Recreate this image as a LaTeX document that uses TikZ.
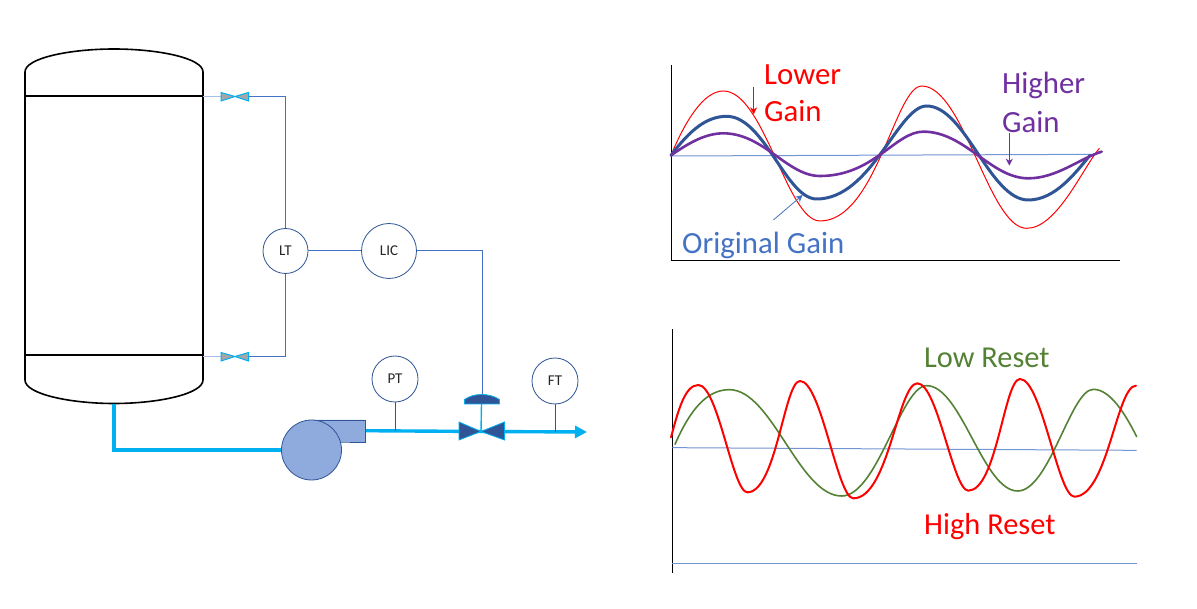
\documentclass[tikz,border=0pt]{standalone}
\usepackage{fontspec}
\setmainfont{Carlito}
\usetikzlibrary{arrows.meta}
\definecolor{pipecyan}{HTML}{00B0F0}
\definecolor{sigblue}{HTML}{4472C4}
\definecolor{sigdark}{HTML}{2F5597}
\definecolor{siglight}{HTML}{A9BDE5}
\definecolor{pumpfill}{HTML}{8FAADC}
\definecolor{purp}{HTML}{7030A0}
\definecolor{grn}{HTML}{548235}
\definecolor{valvegrey}{HTML}{A6A6A6}
\tikzset{
  instr/.style={circle,draw=sigdark,fill=white,line width=0.8pt,inner sep=0pt,minimum size=#1,font=\fontsize{15}{17}\selectfont,text=black!85},
  signal/.style={draw=sigblue,line width=1pt},
  tap/.style={draw=sigdark,line width=0.8pt},
  pipe/.style={draw=pipecyan,line width=3.4pt},
  vessel/.style={draw=black,line width=1.6pt,line cap=round,line join=round},
  vesselseam/.style={draw=black,line width=2pt,line cap=round},
  handvalve/.style={fill=valvegrey,draw=pipecyan,line width=1pt,line join=miter},
  ctrlvalve/.style={fill=sigdark,draw=pipecyan,line width=0.8pt,line join=miter},
  axisline/.style={draw=black,line width=0.9pt},
  baseline/.style={draw=sigblue!75,line width=1pt},
  lbl/.style={anchor=west,inner sep=0pt,font=\fontsize{30.8}{34}\selectfont},
  lblb/.style={anchor=west,inner sep=0pt,font=\fontsize{30.4}{34}\selectfont},
  curve/.style={line cap=round,line join=round}
}
\begin{document}
\begin{tikzpicture}[x=1pt,y=-1pt]
\useasboundingbox[fill=white] (0,0) rectangle (1197,609);
% Vessel
\draw[vessel] (25,96) -- (25,72) .. controls (25,58) and (70,49) .. (114,49) .. controls (158,49) and (203,58) .. (203,72) -- (203,96);
\draw[vesselseam] (25,96) -- (203,96);
\draw[vessel] (25,96) -- (25,355) (203,96) -- (203,355);
\draw[vesselseam] (25,355) -- (203,355);
\draw[vessel] (25,355) -- (25,380) .. controls (25,394) and (70,403.5) .. (114,403.5) .. controls (158,403.5) and (203,394) .. (203,380) -- (203,355);
% Named points
\coordinate (vesselTop) at (203,96.5);
\coordinate (vesselBot) at (203,356.5);
\coordinate (outlet) at (114,404);
\coordinate (hvTopL) at (221,96.5);
\coordinate (hvTopR) at (248.5,96.5);
\coordinate (hvBotL) at (221,356.5);
\coordinate (hvBotR) at (248.5,356.5);
\coordinate (cornerTop) at (285.5,96.5);
\coordinate (cornerBot) at (285.5,356.5);
\coordinate (valveC) at (481,431.5);
\coordinate (corner) at (482,251);
\coordinate (actBot) at (482,394);
\coordinate (ptTee) at (395,431);
\coordinate (ftTee) at (555,432);
\coordinate (lineEnd) at (587,432);
% Instruments
\node[instr=45pt] (LT) at (285.5,251) {LT};
\node[instr=55pt] (LIC) at (389,251) {LIC};
\node[instr=46pt] (PT) at (395,379) {PT};
\node[instr=46pt] (FT) at (555,381) {FT};
% Signal lines
\draw[signal,siglight] (vesselTop) -- (hvTopL);
\draw[signal,siglight] (vesselBot) -- (hvBotL);
\draw[signal] (hvTopR) -- (cornerTop) -- (LT.north);
\draw[signal] (hvBotR) -- (cornerBot) -- (LT.south);
\draw[signal] (LT.east) -- (LIC.west);
\draw[signal] (LIC.east) -- (corner) -- (actBot);
% Hand valves
\draw[handvalve] (221,92.5) -- (235,96.5) -- (221,101) -- cycle;
\draw[handvalve] (248.5,92.5) -- (235,96.5) -- (248.5,101) -- cycle;
\draw[handvalve] (221,352.5) -- (235,356.5) -- (221,361) -- cycle;
\draw[handvalve] (248.5,352.5) -- (235,356.5) -- (248.5,361) -- cycle;
% Pipes
\draw[pipe,line join=miter] (outlet) -- (114,450) -- (285,450);
\draw[pipe] (364,430.7) -- (valveC);
\draw[pipe,-{Triangle[length=12pt,width=12pt]}] (valveC) -- (lineEnd);
\draw[tap] (PT.south) -- (ptTee);
\draw[tap] (FT.south) -- (ftTee);
% Pump
\draw[fill=pumpfill,draw=sigdark,line width=0.8pt] (311,420) -- (365,420) -- (365,442) -- (335,442) -- (311,442) -- cycle;
\node[circle,fill=pumpfill,draw=sigdark,line width=0.8pt,minimum size=60pt,inner sep=0pt] (pump) at (311.5,450) {};
% Control valve
\draw[draw=pipecyan,line width=1.4pt] (valveC) -- (481.5,404);
\draw[ctrlvalve] (464.5,404) -- (464.5,399.5) .. controls (470,396) and (475,394.5) .. (481.5,394.5) .. controls (488,394.5) and (494,396) .. (499.5,399.5) -- (499.5,404) -- cycle;
\draw[ctrlvalve] (459,422) -- (481,431.5) -- (459,440) -- cycle;
\draw[ctrlvalve] (504.5,422) -- (481,431.5) -- (504.5,440) -- cycle;
% Top chart
\begin{scope}[shift={(660,50)},x=0.33333pt,y=-0.33333pt]
\coordinate (axT) at (34,45);
\coordinate (axO) at (34,632);
\coordinate (axR) at (1380,632);
\coordinate (bL) at (33,318);
\coordinate (bR) at (1295,313);
\draw[axisline] (axT) -- (axO) -- (axR);
\draw[baseline] (bL) -- (bR);
\draw[red,line width=1pt,curve] (33,316) .. controls (75,215) and (130,123) .. (190,123) .. controls (312,123) and (381,513) .. (480,513) .. controls (648,513) and (706,108) .. (785,108) .. controls (911,108) and (987,535) .. (1100,535) .. controls (1190,535) and (1265,360) .. (1318,295);
\draw[sigdark,line width=3pt,curve] (33,316) .. controls (90,240) and (140,199) .. (200,199) .. controls (313,199) and (378,447) .. (470,447) .. controls (635,447) and (714,168) .. (800,168) .. controls (916,168) and (989,450) .. (1105,450) .. controls (1185,450) and (1245,370) .. (1290,316);
\draw[purp,line width=2.6pt,curve] (33,316) .. controls (85,280) and (135,250) .. (190,250) .. controls (312,250) and (381,378) .. (480,378) .. controls (641,378) and (706,245) .. (790,245) .. controls (916,245) and (992,385) .. (1105,385) .. controls (1190,385) and (1260,325) .. (1325,305);
\draw[red,line width=0.9pt,-{Stealth[length=7pt,width=7pt]}] (281,110) coordinate (ra) -- (281,193) coordinate (rb);
\draw[purp,line width=0.9pt,-{Stealth[length=7pt,width=7pt]}] (1048,248) -- (1048,347);
\draw[sigblue,line width=0.8pt,-{Stealth[length=7pt,width=7pt]}] (340,510) -- (428,435);
\end{scope}
\node[lbl,text=red] (lower) at (764,75) {Lower};
\node[lbl,text=red] (lgain) at (764,111) {Gain};
\node[lbl,text=purp] (higher) at (1002,85.5) {Higher};
\node[lbl,text=purp] (hgain) at (1002,122) {Gain};
\node[lbl,text=sigblue] (orig) at (682,245.5) {Original Gain};
% Bottom chart
\begin{scope}[shift={(660,320)},x=0.33333pt,y=-0.33333pt]
\coordinate (ax2T) at (37,28);
\coordinate (ax2B) at (37,758);
\coordinate (b2L) at (37,383);
\coordinate (b2R) at (1430,391);
\coordinate (b3L) at (37,731);
\coordinate (b3R) at (1430,731);
\draw[axisline] (ax2T) -- (ax2B);
\draw[baseline] (b2L) -- (b2R);
\draw[baseline] (b3L) -- (b3R);
\draw[grn,line width=1.6pt,curve] (45,373) .. controls (90,270) and (140,209) .. (208,209) .. controls (336,209) and (417,528) .. (545,528) .. controls (652,528) and (723,197) .. (800,197) .. controls (904,197) and (969,513) .. (1073,513) .. controls (1168,513) and (1232,208) .. (1300,208) .. controls (1350,208) and (1395,280) .. (1430,350);
\draw[red,line width=2pt,curve] (33,352) .. controls (55,270) and (75,195) .. (115,195) .. controls (174,195) and (218,517) .. (262,517) .. controls (349,517) and (373,183) .. (420,183) .. controls (484,183) and (532,535) .. (580,535) .. controls (686,535) and (714,190) .. (772,190) .. controls (833,190) and (879,512) .. (925,512) .. controls (1010,512) and (1033,177) .. (1080,177) .. controls (1145,177) and (1194,530) .. (1243,530) .. controls (1343,530) and (1370,197) .. (1428,197);
\end{scope}
\node[lblb,text=grn] (low) at (924,358) {Low Reset};
\node[lblb,text=red] (high) at (924,526.5) {High Reset};
\end{tikzpicture}
\end{document}
